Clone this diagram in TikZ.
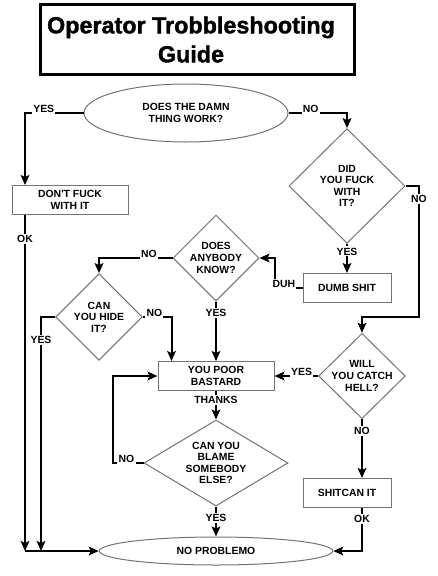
\documentclass[tikz,border=0pt]{standalone}
\usepackage{fontspec}
\setmainfont{Liberation Sans}
\usetikzlibrary{shapes.geometric,arrows.meta,calc}

\newcommand{\flowfont}{\fontsize{7.8}{8.7}\selectfont\bfseries}

\tikzset{every picture/.style={line width=0.75pt}}
\tikzset{
  box/.style={draw=black!55, fill=white, minimum width=87pt, minimum height=21.75pt, inner sep=0pt, align=center, font=\flowfont},
  ask/.style={diamond, draw=black!55, fill=white, inner sep=-2pt, align=center, font=\flowfont},
  oval/.style={ellipse, draw=black!55, fill=white, inner sep=0pt, align=center, font=\flowfont},
  flow/.style={line width=1.5pt, -{Stealth[length=7.5pt,width=6.5pt,inset=1.5pt]}},
  lbl/.style={fill=white, inner sep=1pt, font=\flowfont},
}

\begin{document}
\begin{tikzpicture}[x=0.75pt,y=0.75pt,yscale=-1,xscale=1]
\useasboundingbox (0,0) rectangle (438,576);

% Title
\node (titlebox) [draw, line width=2.25pt, minimum width=235.5pt, minimum height=52.5pt] at (197.5,39.5) {};
\node (title) [align=center, font=\fontsize{17.5}{21.75}\selectfont\bfseries\addfontfeatures{FakeBold=1.5}] at (191,39.5) {Operator Trobbleshooting\\Guide};

% Questions and answers
\node (work) [oval, minimum width=153pt, minimum height=43.5pt] at (186,113) {DOES THE DAMN\\THING WORK?};
\node (did) [ask, minimum width=87pt, minimum height=86pt] at (347,186) {DID\\YOU FUCK\\WITH\\IT?};
\node (dont) [box] at (70,200) {DON\textquotesingle T FUCK\\WITH IT};
\node (dumb) [box, minimum width=66pt] at (347,288) {DUMB SHIT};
\node (anybody) [ask, minimum width=64.5pt, minimum height=64.5pt] at (216,258) {DOES\\ANYBODY\\KNOW?};
\node (hide) [ask, minimum width=65pt, minimum height=65pt] at (99,317) {CAN\\YOU HIDE\\IT?};
\node (poor) [box] at (216,376) {YOU POOR\\BASTARD};
\node (hell) [ask, minimum width=65pt, minimum height=64pt] at (362,376) {WILL\\YOU CATCH\\HELL?};
\node (blame) [ask, aspect=1.7, minimum width=108pt, minimum height=64.5pt] at (216,463) {CAN YOU\\BLAME\\SOMEBODY\\ELSE?};
\node (shitcan) [box, minimum width=66pt] at (347,493) {SHITCAN IT};
\node (nope) [oval, minimum width=175pt, minimum height=21pt] at (216,551) {NO PROBLEMO};

% Bends
\coordinate (laneA) at (25,551);
\coordinate (laneB) at (41,551);
\coordinate (duh) at (275,258);
\coordinate (rbend) at (419,317);

% Connections
\draw[flow] (work.west) -| node[lbl,above=-1.5pt,pos=0.34]{YES} (dont.north -| laneA);
\draw[flow] (work.east) -| node[lbl,above=-1.5pt,pos=0.19]{NO} (did.north);
\draw[flow] (did.east) -| node[lbl,pos=0.55]{NO} (rbend) -| (hell.north);
\draw[flow] (did.south) -- node[lbl,pos=0.26]{YES} (dumb.north);
\draw[flow] (dumb.west) -| node[lbl,above=-1.5pt,pos=0.34]{DUH} (duh) -- (anybody.east);
\draw[flow] (anybody.west) -| node[lbl,above=-1.5pt,pos=0.16]{NO} (hide.north);
\draw[flow] (anybody.south) -- node[lbl,pos=0.2]{YES} (poor.north);
\draw[flow] (hide.east) -| node[lbl,above=-1.5pt,pos=0.2]{NO} ($(poor.north west)+(14,0)$);
\draw[flow] (hide.west) -| node[lbl,pos=0.55]{YES} (laneB);
\draw[flow] (dont.south -| laneA) -- node[lbl,pos=0.07]{OK} (laneA);
\draw[flow] (laneA) -- (nope.west);
\draw[flow] (hell.west) -- node[lbl,above=-1.5pt,pos=0.38]{YES} (poor.east);
\draw[flow] (hell.south) -- node[lbl,pos=0.2]{NO} (shitcan.north -| hell.south);
\draw[flow] (poor.south) -- node[lbl,pos=0.3]{THANKS} (blame.north);
\draw[flow] (blame.west) -- node[lbl,above=-1.5pt,pos=0.55]{NO} ++(-31,0) |- (poor.west);
\draw[flow] (blame.south) -- node[lbl,pos=0.39]{YES} (nope.north);
\draw[flow] (shitcan.south -| hell.south) |- node[lbl,pos=0.125]{OK} (nope.east);

\end{tikzpicture}
\end{document}
